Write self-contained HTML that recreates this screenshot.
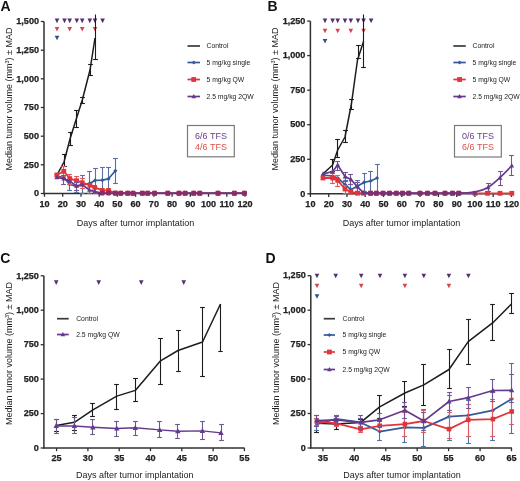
<!DOCTYPE html>
<html><head><meta charset="utf-8"><style>
html,body{margin:0;padding:0;background:#fff;width:520px;height:481px;overflow:hidden;}
svg{display:block;font-family:"Liberation Sans", sans-serif;filter:blur(0.4px);}
</style></head><body>
<svg width="520" height="481" viewBox="0 0 520 481" font-family='"Liberation Sans", sans-serif'>
<rect width="520" height="481" fill="#fff"/>
<text x="0.5" y="10.6" font-size="14" text-anchor="start" font-weight="bold" fill="#111" >A</text>
<line x1="44.0" y1="194.2" x2="44.0" y2="21.5" stroke="#303030" stroke-width="1.5"/>
<line x1="43.4" y1="193.6" x2="245.5" y2="193.6" stroke="#303030" stroke-width="1.5"/>
<line x1="40.8" y1="193.5" x2="44.0" y2="193.5" stroke="#303030" stroke-width="1.3"/>
<text x="39.0" y="196.2" font-size="9.1" text-anchor="end" font-weight="bold" fill="#222" stroke="#222" stroke-width="0.25">0</text>
<line x1="40.8" y1="164.8" x2="44.0" y2="164.8" stroke="#303030" stroke-width="1.3"/>
<text x="39.0" y="167.5" font-size="9.1" text-anchor="end" font-weight="bold" fill="#222" stroke="#222" stroke-width="0.25">250</text>
<line x1="40.8" y1="136.2" x2="44.0" y2="136.2" stroke="#303030" stroke-width="1.3"/>
<text x="39.0" y="138.9" font-size="9.1" text-anchor="end" font-weight="bold" fill="#222" stroke="#222" stroke-width="0.25">500</text>
<line x1="40.8" y1="107.5" x2="44.0" y2="107.5" stroke="#303030" stroke-width="1.3"/>
<text x="39.0" y="110.2" font-size="9.1" text-anchor="end" font-weight="bold" fill="#222" stroke="#222" stroke-width="0.25">750</text>
<line x1="40.8" y1="78.8" x2="44.0" y2="78.8" stroke="#303030" stroke-width="1.3"/>
<text x="39.0" y="81.5" font-size="9.1" text-anchor="end" font-weight="bold" fill="#222" stroke="#222" stroke-width="0.25">1,000</text>
<line x1="40.8" y1="50.2" x2="44.0" y2="50.2" stroke="#303030" stroke-width="1.3"/>
<text x="39.0" y="52.9" font-size="9.1" text-anchor="end" font-weight="bold" fill="#222" stroke="#222" stroke-width="0.25">1,250</text>
<line x1="40.8" y1="21.5" x2="44.0" y2="21.5" stroke="#303030" stroke-width="1.3"/>
<text x="39.0" y="24.2" font-size="9.1" text-anchor="end" font-weight="bold" fill="#222" stroke="#222" stroke-width="0.25">1,500</text>
<line x1="44.5" y1="193.6" x2="44.5" y2="196.8" stroke="#303030" stroke-width="1.3"/>
<text x="44.5" y="206.8" font-size="9.1" text-anchor="middle" font-weight="bold" fill="#222" stroke="#222" stroke-width="0.25">10</text>
<line x1="62.7" y1="193.6" x2="62.7" y2="196.8" stroke="#303030" stroke-width="1.3"/>
<text x="62.7" y="206.8" font-size="9.1" text-anchor="middle" font-weight="bold" fill="#222" stroke="#222" stroke-width="0.25">20</text>
<line x1="81.0" y1="193.6" x2="81.0" y2="196.8" stroke="#303030" stroke-width="1.3"/>
<text x="81.0" y="206.8" font-size="9.1" text-anchor="middle" font-weight="bold" fill="#222" stroke="#222" stroke-width="0.25">30</text>
<line x1="99.2" y1="193.6" x2="99.2" y2="196.8" stroke="#303030" stroke-width="1.3"/>
<text x="99.2" y="206.8" font-size="9.1" text-anchor="middle" font-weight="bold" fill="#222" stroke="#222" stroke-width="0.25">40</text>
<line x1="117.4" y1="193.6" x2="117.4" y2="196.8" stroke="#303030" stroke-width="1.3"/>
<text x="117.4" y="206.8" font-size="9.1" text-anchor="middle" font-weight="bold" fill="#222" stroke="#222" stroke-width="0.25">50</text>
<line x1="135.6" y1="193.6" x2="135.6" y2="196.8" stroke="#303030" stroke-width="1.3"/>
<text x="135.6" y="206.8" font-size="9.1" text-anchor="middle" font-weight="bold" fill="#222" stroke="#222" stroke-width="0.25">60</text>
<line x1="153.9" y1="193.6" x2="153.9" y2="196.8" stroke="#303030" stroke-width="1.3"/>
<text x="153.9" y="206.8" font-size="9.1" text-anchor="middle" font-weight="bold" fill="#222" stroke="#222" stroke-width="0.25">70</text>
<line x1="172.1" y1="193.6" x2="172.1" y2="196.8" stroke="#303030" stroke-width="1.3"/>
<text x="172.1" y="206.8" font-size="9.1" text-anchor="middle" font-weight="bold" fill="#222" stroke="#222" stroke-width="0.25">80</text>
<line x1="190.3" y1="193.6" x2="190.3" y2="196.8" stroke="#303030" stroke-width="1.3"/>
<text x="190.3" y="206.8" font-size="9.1" text-anchor="middle" font-weight="bold" fill="#222" stroke="#222" stroke-width="0.25">90</text>
<line x1="208.5" y1="193.6" x2="208.5" y2="196.8" stroke="#303030" stroke-width="1.3"/>
<text x="208.5" y="206.8" font-size="9.1" text-anchor="middle" font-weight="bold" fill="#222" stroke="#222" stroke-width="0.25">100</text>
<line x1="226.8" y1="193.6" x2="226.8" y2="196.8" stroke="#303030" stroke-width="1.3"/>
<text x="226.8" y="206.8" font-size="9.1" text-anchor="middle" font-weight="bold" fill="#222" stroke="#222" stroke-width="0.25">110</text>
<line x1="245.0" y1="193.6" x2="245.0" y2="196.8" stroke="#303030" stroke-width="1.3"/>
<text x="245.0" y="206.8" font-size="9.1" text-anchor="middle" font-weight="bold" fill="#222" stroke="#222" stroke-width="0.25">120</text>
<text x="0" y="0" font-size="9" text-anchor="middle" fill="#222" transform="translate(12.0,99.0) rotate(-90)">Median tumor volume (mm<tspan font-size="5.5" dy="-3">3</tspan><tspan dy="3">) ± MAD</tspan></text>
<text x="135.5" y="225.8" font-size="9" text-anchor="middle" font-weight="normal" fill="#222" >Days after tumor implantation</text>
<line x1="187.5" y1="46.0" x2="200.0" y2="46.0" stroke="#3a3a3a" stroke-width="1.7"/>
<text x="206.5" y="48.4" font-size="6.8" text-anchor="start" font-weight="normal" fill="#222" >Control</text>
<line x1="187.5" y1="62.5" x2="200.0" y2="62.5" stroke="#35599a" stroke-width="1.7"/>
<polygon points="193.8,60.5 195.8,62.5 193.8,64.5 191.8,62.5" fill="#35599a"/>
<text x="206.5" y="64.9" font-size="6.8" text-anchor="start" font-weight="normal" fill="#222" >5 mg/kg single</text>
<line x1="187.5" y1="79.5" x2="200.0" y2="79.5" stroke="#e2353b" stroke-width="1.7"/>
<rect x="191.3" y="77.1" width="4.8" height="4.8" fill="#e2353b"/>
<text x="206.5" y="81.9" font-size="6.8" text-anchor="start" font-weight="normal" fill="#222" >5 mg/kg QW</text>
<line x1="187.5" y1="96.5" x2="200.0" y2="96.5" stroke="#643a8e" stroke-width="1.7"/>
<polygon points="193.8,94.0 196.0,98.2 191.5,98.2" fill="#643a8e"/>
<text x="206.5" y="98.9" font-size="6.8" text-anchor="start" font-weight="normal" fill="#222" >2.5 mg/kg 2QW</text>
<rect x="187.5" y="125.5" width="46.8" height="31.3" fill="none" stroke="#7a7a7a" stroke-width="1.2"/>
<text x="211.0" y="139.0" font-size="9" text-anchor="middle" font-weight="normal" fill="#6b3a8a" >6/6 TFS</text>
<text x="211.0" y="149.5" font-size="9" text-anchor="middle" font-weight="normal" fill="#d9534f" >4/6 TFS</text>
<polygon points="54.70,18.55 59.30,18.55 57.00,23.14" fill="#553071"/>
<polygon points="62.20,18.55 66.80,18.55 64.50,23.14" fill="#553071"/>
<polygon points="67.40,18.55 72.00,18.55 69.70,23.14" fill="#553071"/>
<polygon points="74.50,18.55 79.10,18.55 76.80,23.14" fill="#553071"/>
<polygon points="79.90,18.55 84.50,18.55 82.20,23.14" fill="#553071"/>
<polygon points="87.50,18.55 92.10,18.55 89.80,23.14" fill="#553071"/>
<polygon points="92.70,18.55 97.30,18.55 95.00,23.14" fill="#553071"/>
<polygon points="100.30,18.55 104.90,18.55 102.60,23.14" fill="#553071"/>
<polygon points="54.70,26.95 59.30,26.95 57.00,31.54" fill="#d9434a"/>
<polygon points="67.40,26.95 72.00,26.95 69.70,31.54" fill="#d9434a"/>
<polygon points="79.90,26.95 84.50,26.95 82.20,31.54" fill="#d9434a"/>
<polygon points="92.70,26.95 97.30,26.95 95.00,31.54" fill="#d9434a"/>
<polygon points="54.70,35.75 59.30,35.75 57.00,40.34" fill="#2e4f86"/>
<line x1="64.5" y1="154.5" x2="64.5" y2="166.5" stroke="#1c1c1c" stroke-width="1.1"/>
<line x1="62.1" y1="154.5" x2="66.9" y2="154.5" stroke="#1c1c1c" stroke-width="1.1"/>
<line x1="62.1" y1="166.5" x2="66.9" y2="166.5" stroke="#1c1c1c" stroke-width="1.1"/>
<line x1="70.5" y1="132.5" x2="70.5" y2="145.5" stroke="#1c1c1c" stroke-width="1.1"/>
<line x1="68.1" y1="132.5" x2="72.9" y2="132.5" stroke="#1c1c1c" stroke-width="1.1"/>
<line x1="68.1" y1="145.5" x2="72.9" y2="145.5" stroke="#1c1c1c" stroke-width="1.1"/>
<line x1="76.5" y1="110.5" x2="76.5" y2="127.5" stroke="#1c1c1c" stroke-width="1.1"/>
<line x1="74.1" y1="110.5" x2="78.9" y2="110.5" stroke="#1c1c1c" stroke-width="1.1"/>
<line x1="74.1" y1="127.5" x2="78.9" y2="127.5" stroke="#1c1c1c" stroke-width="1.1"/>
<line x1="82.5" y1="97.5" x2="82.5" y2="103.5" stroke="#1c1c1c" stroke-width="1.1"/>
<line x1="80.1" y1="97.5" x2="84.9" y2="97.5" stroke="#1c1c1c" stroke-width="1.1"/>
<line x1="80.1" y1="103.5" x2="84.9" y2="103.5" stroke="#1c1c1c" stroke-width="1.1"/>
<line x1="90.5" y1="64.5" x2="90.5" y2="75.5" stroke="#1c1c1c" stroke-width="1.1"/>
<line x1="88.1" y1="64.5" x2="92.9" y2="64.5" stroke="#1c1c1c" stroke-width="1.1"/>
<line x1="88.1" y1="75.5" x2="92.9" y2="75.5" stroke="#1c1c1c" stroke-width="1.1"/>
<line x1="95.5" y1="14.5" x2="95.5" y2="59.5" stroke="#1c1c1c" stroke-width="1.1"/>
<line x1="93.1" y1="59.5" x2="97.9" y2="59.5" stroke="#1c1c1c" stroke-width="1.1"/>
<polyline points="57.0,175.0 64.0,162.0 70.0,139.0 76.6,118.0 82.3,100.0 90.0,70.0 95.0,38.0" fill="none" stroke="#1c1c1c" stroke-width="1.5" stroke-linejoin="round"/>
<line x1="69.5" y1="179.5" x2="69.5" y2="190.5" stroke="#5670a2" stroke-width="1.1"/>
<line x1="67.1" y1="179.5" x2="71.9" y2="179.5" stroke="#5670a2" stroke-width="1.1"/>
<line x1="67.1" y1="190.5" x2="71.9" y2="190.5" stroke="#5670a2" stroke-width="1.1"/>
<line x1="76.5" y1="181.5" x2="76.5" y2="192.5" stroke="#5670a2" stroke-width="1.1"/>
<line x1="74.1" y1="181.5" x2="78.9" y2="181.5" stroke="#5670a2" stroke-width="1.1"/>
<line x1="74.1" y1="192.5" x2="78.9" y2="192.5" stroke="#5670a2" stroke-width="1.1"/>
<line x1="82.5" y1="175.5" x2="82.5" y2="193.5" stroke="#5670a2" stroke-width="1.1"/>
<line x1="80.1" y1="175.5" x2="84.9" y2="175.5" stroke="#5670a2" stroke-width="1.1"/>
<line x1="80.1" y1="193.5" x2="84.9" y2="193.5" stroke="#5670a2" stroke-width="1.1"/>
<line x1="89.5" y1="171.5" x2="89.5" y2="193.5" stroke="#5670a2" stroke-width="1.1"/>
<line x1="87.1" y1="171.5" x2="91.9" y2="171.5" stroke="#5670a2" stroke-width="1.1"/>
<line x1="87.1" y1="193.5" x2="91.9" y2="193.5" stroke="#5670a2" stroke-width="1.1"/>
<line x1="95.5" y1="168.5" x2="95.5" y2="193.5" stroke="#5670a2" stroke-width="1.1"/>
<line x1="93.1" y1="168.5" x2="97.9" y2="168.5" stroke="#5670a2" stroke-width="1.1"/>
<line x1="93.1" y1="193.5" x2="97.9" y2="193.5" stroke="#5670a2" stroke-width="1.1"/>
<line x1="102.5" y1="167.5" x2="102.5" y2="193.5" stroke="#5670a2" stroke-width="1.1"/>
<line x1="100.1" y1="167.5" x2="104.9" y2="167.5" stroke="#5670a2" stroke-width="1.1"/>
<line x1="100.1" y1="193.5" x2="104.9" y2="193.5" stroke="#5670a2" stroke-width="1.1"/>
<line x1="108.5" y1="167.5" x2="108.5" y2="193.5" stroke="#5670a2" stroke-width="1.1"/>
<line x1="106.1" y1="167.5" x2="110.9" y2="167.5" stroke="#5670a2" stroke-width="1.1"/>
<line x1="106.1" y1="193.5" x2="110.9" y2="193.5" stroke="#5670a2" stroke-width="1.1"/>
<line x1="115.5" y1="158.5" x2="115.5" y2="183.5" stroke="#5670a2" stroke-width="1.1"/>
<line x1="113.1" y1="158.5" x2="117.9" y2="158.5" stroke="#5670a2" stroke-width="1.1"/>
<line x1="113.1" y1="183.5" x2="117.9" y2="183.5" stroke="#5670a2" stroke-width="1.1"/>
<polyline points="56.8,176.0 63.8,177.5 69.5,184.3 76.5,186.4 82.3,184.8 89.8,183.3 95.0,180.4 102.3,180.2 108.5,178.8 115.4,170.8" fill="none" stroke="#35599a" stroke-width="1.7" stroke-linejoin="round"/>
<polygon points="56.8,173.9 58.9,176.0 56.8,178.1 54.7,176.0" fill="#35599a"/>
<polygon points="63.8,175.4 65.9,177.5 63.8,179.6 61.7,177.5" fill="#35599a"/>
<polygon points="69.5,182.2 71.6,184.3 69.5,186.4 67.4,184.3" fill="#35599a"/>
<polygon points="76.5,184.3 78.6,186.4 76.5,188.5 74.4,186.4" fill="#35599a"/>
<polygon points="82.3,182.7 84.4,184.8 82.3,186.9 80.2,184.8" fill="#35599a"/>
<polygon points="89.8,181.2 91.9,183.3 89.8,185.4 87.7,183.3" fill="#35599a"/>
<polygon points="95.0,178.3 97.1,180.4 95.0,182.5 92.9,180.4" fill="#35599a"/>
<polygon points="102.3,178.1 104.4,180.2 102.3,182.3 100.2,180.2" fill="#35599a"/>
<polygon points="108.5,176.7 110.6,178.8 108.5,180.9 106.4,178.8" fill="#35599a"/>
<polygon points="115.4,168.7 117.5,170.8 115.4,172.9 113.3,170.8" fill="#35599a"/>
<line x1="63.5" y1="166.5" x2="63.5" y2="176.5" stroke="#de5a60" stroke-width="1.1"/>
<line x1="61.1" y1="166.5" x2="65.9" y2="166.5" stroke="#de5a60" stroke-width="1.1"/>
<line x1="61.1" y1="176.5" x2="65.9" y2="176.5" stroke="#de5a60" stroke-width="1.1"/>
<line x1="69.5" y1="174.5" x2="69.5" y2="184.5" stroke="#de5a60" stroke-width="1.1"/>
<line x1="67.1" y1="174.5" x2="71.9" y2="174.5" stroke="#de5a60" stroke-width="1.1"/>
<line x1="67.1" y1="184.5" x2="71.9" y2="184.5" stroke="#de5a60" stroke-width="1.1"/>
<line x1="76.5" y1="176.5" x2="76.5" y2="186.5" stroke="#de5a60" stroke-width="1.1"/>
<line x1="74.1" y1="176.5" x2="78.9" y2="176.5" stroke="#de5a60" stroke-width="1.1"/>
<line x1="74.1" y1="186.5" x2="78.9" y2="186.5" stroke="#de5a60" stroke-width="1.1"/>
<line x1="82.5" y1="178.5" x2="82.5" y2="188.5" stroke="#de5a60" stroke-width="1.1"/>
<line x1="80.1" y1="178.5" x2="84.9" y2="178.5" stroke="#de5a60" stroke-width="1.1"/>
<line x1="80.1" y1="188.5" x2="84.9" y2="188.5" stroke="#de5a60" stroke-width="1.1"/>
<polyline points="56.8,175.0 63.8,171.3 69.8,178.6 76.5,180.7 82.2,182.7 90.0,185.3 94.7,187.4 102.3,190.4 108.5,190.4 115.4,193.0 120.8,193.2 127.7,193.2 133.0,193.2 142.3,193.2 147.7,193.2 154.6,193.2 167.8,193.2 179.0,193.2 185.1,193.2 193.7,193.2 199.8,193.2 218.0,193.2 234.4,193.2 244.4,193.2" fill="none" stroke="#e2353b" stroke-width="1.8" stroke-linejoin="round"/>
<rect x="54.4" y="172.6" width="4.8" height="4.8" fill="#e2353b"/>
<rect x="61.4" y="168.9" width="4.8" height="4.8" fill="#e2353b"/>
<rect x="67.4" y="176.2" width="4.8" height="4.8" fill="#e2353b"/>
<rect x="74.1" y="178.3" width="4.8" height="4.8" fill="#e2353b"/>
<rect x="79.8" y="180.3" width="4.8" height="4.8" fill="#e2353b"/>
<rect x="87.6" y="182.9" width="4.8" height="4.8" fill="#e2353b"/>
<rect x="92.3" y="185.0" width="4.8" height="4.8" fill="#e2353b"/>
<rect x="99.9" y="188.0" width="4.8" height="4.8" fill="#e2353b"/>
<rect x="106.1" y="188.0" width="4.8" height="4.8" fill="#e2353b"/>
<rect x="113.0" y="190.6" width="4.8" height="4.8" fill="#e2353b"/>
<rect x="118.4" y="190.8" width="4.8" height="4.8" fill="#e2353b"/>
<rect x="125.3" y="190.8" width="4.8" height="4.8" fill="#e2353b"/>
<rect x="130.6" y="190.8" width="4.8" height="4.8" fill="#e2353b"/>
<rect x="139.9" y="190.8" width="4.8" height="4.8" fill="#e2353b"/>
<rect x="145.3" y="190.8" width="4.8" height="4.8" fill="#e2353b"/>
<rect x="152.2" y="190.8" width="4.8" height="4.8" fill="#e2353b"/>
<rect x="165.4" y="190.8" width="4.8" height="4.8" fill="#e2353b"/>
<rect x="176.6" y="190.8" width="4.8" height="4.8" fill="#e2353b"/>
<rect x="182.7" y="190.8" width="4.8" height="4.8" fill="#e2353b"/>
<rect x="191.3" y="190.8" width="4.8" height="4.8" fill="#e2353b"/>
<rect x="197.4" y="190.8" width="4.8" height="4.8" fill="#e2353b"/>
<rect x="215.6" y="190.8" width="4.8" height="4.8" fill="#e2353b"/>
<rect x="232.0" y="190.8" width="4.8" height="4.8" fill="#e2353b"/>
<rect x="242.0" y="190.8" width="4.8" height="4.8" fill="#e2353b"/>
<line x1="63.5" y1="175.5" x2="63.5" y2="184.5" stroke="#74559a" stroke-width="1.1"/>
<line x1="61.1" y1="175.5" x2="65.9" y2="175.5" stroke="#74559a" stroke-width="1.1"/>
<line x1="61.1" y1="184.5" x2="65.9" y2="184.5" stroke="#74559a" stroke-width="1.1"/>
<line x1="76.5" y1="182.5" x2="76.5" y2="190.5" stroke="#74559a" stroke-width="1.1"/>
<line x1="74.1" y1="182.5" x2="78.9" y2="182.5" stroke="#74559a" stroke-width="1.1"/>
<line x1="74.1" y1="190.5" x2="78.9" y2="190.5" stroke="#74559a" stroke-width="1.1"/>
<polyline points="56.8,177.5 63.8,178.6 69.8,181.2 76.5,185.9 82.2,184.8 89.5,190.0 94.7,191.6 102.3,193.0 108.5,193.0 115.4,193.2 120.8,193.2 127.7,193.2 133.0,193.2 142.3,193.2 147.7,193.2 154.6,193.2 167.8,193.2 179.0,193.2 185.1,193.2 193.7,193.2 199.8,193.2 218.0,193.2 234.4,193.2 244.4,193.2" fill="none" stroke="#643a8e" stroke-width="1.7" stroke-linejoin="round"/>
<polygon points="56.8,174.9 59.2,179.3 54.4,179.3" fill="#643a8e"/>
<polygon points="63.8,176.0 66.2,180.4 61.4,180.4" fill="#643a8e"/>
<polygon points="69.8,178.6 72.2,183.0 67.4,183.0" fill="#643a8e"/>
<polygon points="76.5,183.3 78.9,187.7 74.1,187.7" fill="#643a8e"/>
<polygon points="82.2,182.2 84.6,186.6 79.8,186.6" fill="#643a8e"/>
<polygon points="89.5,187.4 91.9,191.8 87.1,191.8" fill="#643a8e"/>
<polygon points="94.7,189.0 97.1,193.4 92.3,193.4" fill="#643a8e"/>
<rect x="99.8" y="190.5" width="5.0" height="5.0" rx="1.5" fill="#8a2d66"/>
<rect x="106.0" y="190.5" width="5.0" height="5.0" rx="1.5" fill="#8a2d66"/>
<rect x="112.9" y="190.7" width="5.0" height="5.0" rx="1.5" fill="#8a2d66"/>
<rect x="118.3" y="190.7" width="5.0" height="5.0" rx="1.5" fill="#8a2d66"/>
<rect x="125.2" y="190.7" width="5.0" height="5.0" rx="1.5" fill="#8a2d66"/>
<rect x="130.5" y="190.7" width="5.0" height="5.0" rx="1.5" fill="#8a2d66"/>
<rect x="139.8" y="190.7" width="5.0" height="5.0" rx="1.5" fill="#8a2d66"/>
<rect x="145.2" y="190.7" width="5.0" height="5.0" rx="1.5" fill="#8a2d66"/>
<rect x="152.1" y="190.7" width="5.0" height="5.0" rx="1.5" fill="#8a2d66"/>
<rect x="165.3" y="190.7" width="5.0" height="5.0" rx="1.5" fill="#8a2d66"/>
<rect x="176.5" y="190.7" width="5.0" height="5.0" rx="1.5" fill="#8a2d66"/>
<rect x="182.6" y="190.7" width="5.0" height="5.0" rx="1.5" fill="#8a2d66"/>
<rect x="191.2" y="190.7" width="5.0" height="5.0" rx="1.5" fill="#8a2d66"/>
<rect x="197.3" y="190.7" width="5.0" height="5.0" rx="1.5" fill="#8a2d66"/>
<rect x="215.5" y="190.7" width="5.0" height="5.0" rx="1.5" fill="#8a2d66"/>
<rect x="231.9" y="190.7" width="5.0" height="5.0" rx="1.5" fill="#8a2d66"/>
<rect x="241.9" y="190.7" width="5.0" height="5.0" rx="1.5" fill="#8a2d66"/>
<text x="267.5" y="10.6" font-size="14" text-anchor="start" font-weight="bold" fill="#111" >B</text>
<line x1="310.4" y1="194.4" x2="310.4" y2="21.1" stroke="#303030" stroke-width="1.5"/>
<line x1="309.8" y1="193.8" x2="512.0" y2="193.8" stroke="#303030" stroke-width="1.5"/>
<line x1="307.2" y1="193.8" x2="310.4" y2="193.8" stroke="#303030" stroke-width="1.3"/>
<text x="305.4" y="196.5" font-size="9.1" text-anchor="end" font-weight="bold" fill="#222" stroke="#222" stroke-width="0.25">0</text>
<line x1="307.2" y1="159.3" x2="310.4" y2="159.3" stroke="#303030" stroke-width="1.3"/>
<text x="305.4" y="162.0" font-size="9.1" text-anchor="end" font-weight="bold" fill="#222" stroke="#222" stroke-width="0.25">250</text>
<line x1="307.2" y1="124.7" x2="310.4" y2="124.7" stroke="#303030" stroke-width="1.3"/>
<text x="305.4" y="127.4" font-size="9.1" text-anchor="end" font-weight="bold" fill="#222" stroke="#222" stroke-width="0.25">500</text>
<line x1="307.2" y1="90.2" x2="310.4" y2="90.2" stroke="#303030" stroke-width="1.3"/>
<text x="305.4" y="92.9" font-size="9.1" text-anchor="end" font-weight="bold" fill="#222" stroke="#222" stroke-width="0.25">750</text>
<line x1="307.2" y1="55.6" x2="310.4" y2="55.6" stroke="#303030" stroke-width="1.3"/>
<text x="305.4" y="58.3" font-size="9.1" text-anchor="end" font-weight="bold" fill="#222" stroke="#222" stroke-width="0.25">1,000</text>
<line x1="307.2" y1="21.1" x2="310.4" y2="21.1" stroke="#303030" stroke-width="1.3"/>
<text x="305.4" y="23.8" font-size="9.1" text-anchor="end" font-weight="bold" fill="#222" stroke="#222" stroke-width="0.25">1,250</text>
<line x1="310.4" y1="193.8" x2="310.4" y2="197.0" stroke="#303030" stroke-width="1.3"/>
<text x="310.4" y="207.0" font-size="9.1" text-anchor="middle" font-weight="bold" fill="#222" stroke="#222" stroke-width="0.25">10</text>
<line x1="328.7" y1="193.8" x2="328.7" y2="197.0" stroke="#303030" stroke-width="1.3"/>
<text x="328.7" y="207.0" font-size="9.1" text-anchor="middle" font-weight="bold" fill="#222" stroke="#222" stroke-width="0.25">20</text>
<line x1="347.0" y1="193.8" x2="347.0" y2="197.0" stroke="#303030" stroke-width="1.3"/>
<text x="347.0" y="207.0" font-size="9.1" text-anchor="middle" font-weight="bold" fill="#222" stroke="#222" stroke-width="0.25">30</text>
<line x1="365.2" y1="193.8" x2="365.2" y2="197.0" stroke="#303030" stroke-width="1.3"/>
<text x="365.2" y="207.0" font-size="9.1" text-anchor="middle" font-weight="bold" fill="#222" stroke="#222" stroke-width="0.25">40</text>
<line x1="383.5" y1="193.8" x2="383.5" y2="197.0" stroke="#303030" stroke-width="1.3"/>
<text x="383.5" y="207.0" font-size="9.1" text-anchor="middle" font-weight="bold" fill="#222" stroke="#222" stroke-width="0.25">50</text>
<line x1="401.8" y1="193.8" x2="401.8" y2="197.0" stroke="#303030" stroke-width="1.3"/>
<text x="401.8" y="207.0" font-size="9.1" text-anchor="middle" font-weight="bold" fill="#222" stroke="#222" stroke-width="0.25">60</text>
<line x1="420.1" y1="193.8" x2="420.1" y2="197.0" stroke="#303030" stroke-width="1.3"/>
<text x="420.1" y="207.0" font-size="9.1" text-anchor="middle" font-weight="bold" fill="#222" stroke="#222" stroke-width="0.25">70</text>
<line x1="438.4" y1="193.8" x2="438.4" y2="197.0" stroke="#303030" stroke-width="1.3"/>
<text x="438.4" y="207.0" font-size="9.1" text-anchor="middle" font-weight="bold" fill="#222" stroke="#222" stroke-width="0.25">80</text>
<line x1="456.7" y1="193.8" x2="456.7" y2="197.0" stroke="#303030" stroke-width="1.3"/>
<text x="456.7" y="207.0" font-size="9.1" text-anchor="middle" font-weight="bold" fill="#222" stroke="#222" stroke-width="0.25">90</text>
<line x1="474.9" y1="193.8" x2="474.9" y2="197.0" stroke="#303030" stroke-width="1.3"/>
<text x="474.9" y="207.0" font-size="9.1" text-anchor="middle" font-weight="bold" fill="#222" stroke="#222" stroke-width="0.25">100</text>
<line x1="493.2" y1="193.8" x2="493.2" y2="197.0" stroke="#303030" stroke-width="1.3"/>
<text x="493.2" y="207.0" font-size="9.1" text-anchor="middle" font-weight="bold" fill="#222" stroke="#222" stroke-width="0.25">110</text>
<line x1="511.5" y1="193.8" x2="511.5" y2="197.0" stroke="#303030" stroke-width="1.3"/>
<text x="511.5" y="207.0" font-size="9.1" text-anchor="middle" font-weight="bold" fill="#222" stroke="#222" stroke-width="0.25">120</text>
<text x="0" y="0" font-size="9" text-anchor="middle" fill="#222" transform="translate(277.5,99.0) rotate(-90)">Median tumor volume (mm<tspan font-size="5.5" dy="-3">3</tspan><tspan dy="3">) ± MAD</tspan></text>
<text x="401.6" y="225.8" font-size="9" text-anchor="middle" font-weight="normal" fill="#222" >Days after tumor implantation</text>
<line x1="453.3" y1="46.0" x2="465.8" y2="46.0" stroke="#3a3a3a" stroke-width="1.7"/>
<text x="472.5" y="48.4" font-size="6.8" text-anchor="start" font-weight="normal" fill="#222" >Control</text>
<line x1="453.3" y1="62.5" x2="465.8" y2="62.5" stroke="#35599a" stroke-width="1.7"/>
<polygon points="459.6,60.5 461.6,62.5 459.6,64.5 457.6,62.5" fill="#35599a"/>
<text x="472.5" y="64.9" font-size="6.8" text-anchor="start" font-weight="normal" fill="#222" >5 mg/kg single</text>
<line x1="453.3" y1="79.5" x2="465.8" y2="79.5" stroke="#e2353b" stroke-width="1.7"/>
<rect x="457.2" y="77.1" width="4.8" height="4.8" fill="#e2353b"/>
<text x="472.5" y="81.9" font-size="6.8" text-anchor="start" font-weight="normal" fill="#222" >5 mg/kg QW</text>
<line x1="453.3" y1="96.5" x2="465.8" y2="96.5" stroke="#643a8e" stroke-width="1.7"/>
<polygon points="459.6,94.0 461.9,98.2 457.2,98.2" fill="#643a8e"/>
<text x="472.5" y="98.9" font-size="6.8" text-anchor="start" font-weight="normal" fill="#222" >2.5 mg/kg 2QW</text>
<rect x="454.5" y="125.5" width="46.8" height="31.5" fill="none" stroke="#7a7a7a" stroke-width="1.2"/>
<text x="478.0" y="139.0" font-size="9" text-anchor="middle" font-weight="normal" fill="#6b3a8a" >0/6 TFS</text>
<text x="478.0" y="149.5" font-size="9" text-anchor="middle" font-weight="normal" fill="#d9534f" >6/6 TFS</text>
<polygon points="322.70,18.55 327.30,18.55 325.00,23.14" fill="#553071"/>
<polygon points="330.30,18.55 334.90,18.55 332.60,23.14" fill="#553071"/>
<polygon points="335.40,18.55 340.00,18.55 337.70,23.14" fill="#553071"/>
<polygon points="342.70,18.55 347.30,18.55 345.00,23.14" fill="#553071"/>
<polygon points="348.50,18.55 353.10,18.55 350.80,23.14" fill="#553071"/>
<polygon points="355.70,18.55 360.30,18.55 358.00,23.14" fill="#553071"/>
<polygon points="361.30,18.55 365.90,18.55 363.60,23.14" fill="#553071"/>
<polygon points="368.80,18.55 373.40,18.55 371.10,23.14" fill="#553071"/>
<polygon points="322.70,28.75 327.30,28.75 325.00,33.34" fill="#d9434a"/>
<polygon points="335.40,28.75 340.00,28.75 337.70,33.34" fill="#d9434a"/>
<polygon points="348.50,28.75 353.10,28.75 350.80,33.34" fill="#d9434a"/>
<polygon points="361.30,28.75 365.90,28.75 363.60,33.34" fill="#d9434a"/>
<polygon points="322.70,38.95 327.30,38.95 325.00,43.55" fill="#2e4f86"/>
<line x1="332.5" y1="159.5" x2="332.5" y2="171.5" stroke="#1c1c1c" stroke-width="1.1"/>
<line x1="330.1" y1="159.5" x2="334.9" y2="159.5" stroke="#1c1c1c" stroke-width="1.1"/>
<line x1="330.1" y1="171.5" x2="334.9" y2="171.5" stroke="#1c1c1c" stroke-width="1.1"/>
<line x1="337.5" y1="139.5" x2="337.5" y2="157.5" stroke="#1c1c1c" stroke-width="1.1"/>
<line x1="335.1" y1="139.5" x2="339.9" y2="139.5" stroke="#1c1c1c" stroke-width="1.1"/>
<line x1="335.1" y1="157.5" x2="339.9" y2="157.5" stroke="#1c1c1c" stroke-width="1.1"/>
<line x1="345.5" y1="130.5" x2="345.5" y2="142.5" stroke="#1c1c1c" stroke-width="1.1"/>
<line x1="343.1" y1="130.5" x2="347.9" y2="130.5" stroke="#1c1c1c" stroke-width="1.1"/>
<line x1="343.1" y1="142.5" x2="347.9" y2="142.5" stroke="#1c1c1c" stroke-width="1.1"/>
<line x1="351.5" y1="99.5" x2="351.5" y2="109.5" stroke="#1c1c1c" stroke-width="1.1"/>
<line x1="349.1" y1="99.5" x2="353.9" y2="99.5" stroke="#1c1c1c" stroke-width="1.1"/>
<line x1="349.1" y1="109.5" x2="353.9" y2="109.5" stroke="#1c1c1c" stroke-width="1.1"/>
<line x1="358.5" y1="45.5" x2="358.5" y2="58.5" stroke="#1c1c1c" stroke-width="1.1"/>
<line x1="356.1" y1="45.5" x2="360.9" y2="45.5" stroke="#1c1c1c" stroke-width="1.1"/>
<line x1="356.1" y1="58.5" x2="360.9" y2="58.5" stroke="#1c1c1c" stroke-width="1.1"/>
<line x1="363.5" y1="14.5" x2="363.5" y2="67.5" stroke="#1c1c1c" stroke-width="1.1"/>
<line x1="361.1" y1="67.5" x2="365.9" y2="67.5" stroke="#1c1c1c" stroke-width="1.1"/>
<polyline points="323.1,173.8 332.6,165.0 337.7,150.0 345.0,137.0 351.4,104.0 357.5,60.0 363.6,41.3" fill="none" stroke="#1c1c1c" stroke-width="1.5" stroke-linejoin="round"/>
<line x1="345.5" y1="180.5" x2="345.5" y2="190.5" stroke="#5670a2" stroke-width="1.1"/>
<line x1="343.1" y1="180.5" x2="347.9" y2="180.5" stroke="#5670a2" stroke-width="1.1"/>
<line x1="343.1" y1="190.5" x2="347.9" y2="190.5" stroke="#5670a2" stroke-width="1.1"/>
<line x1="350.5" y1="184.5" x2="350.5" y2="193.5" stroke="#5670a2" stroke-width="1.1"/>
<line x1="348.1" y1="184.5" x2="352.9" y2="184.5" stroke="#5670a2" stroke-width="1.1"/>
<line x1="348.1" y1="193.5" x2="352.9" y2="193.5" stroke="#5670a2" stroke-width="1.1"/>
<line x1="357.5" y1="180.5" x2="357.5" y2="192.5" stroke="#5670a2" stroke-width="1.1"/>
<line x1="355.1" y1="180.5" x2="359.9" y2="180.5" stroke="#5670a2" stroke-width="1.1"/>
<line x1="355.1" y1="192.5" x2="359.9" y2="192.5" stroke="#5670a2" stroke-width="1.1"/>
<line x1="364.5" y1="173.5" x2="364.5" y2="191.5" stroke="#5670a2" stroke-width="1.1"/>
<line x1="362.1" y1="173.5" x2="366.9" y2="173.5" stroke="#5670a2" stroke-width="1.1"/>
<line x1="362.1" y1="191.5" x2="366.9" y2="191.5" stroke="#5670a2" stroke-width="1.1"/>
<line x1="370.5" y1="171.5" x2="370.5" y2="191.5" stroke="#5670a2" stroke-width="1.1"/>
<line x1="368.1" y1="171.5" x2="372.9" y2="171.5" stroke="#5670a2" stroke-width="1.1"/>
<line x1="368.1" y1="191.5" x2="372.9" y2="191.5" stroke="#5670a2" stroke-width="1.1"/>
<line x1="377.5" y1="164.5" x2="377.5" y2="192.5" stroke="#5670a2" stroke-width="1.1"/>
<line x1="375.1" y1="164.5" x2="379.9" y2="164.5" stroke="#5670a2" stroke-width="1.1"/>
<line x1="375.1" y1="192.5" x2="379.9" y2="192.5" stroke="#5670a2" stroke-width="1.1"/>
<polyline points="323.1,175.2 332.6,176.0 337.7,178.0 345.1,184.6 350.9,189.7 357.5,186.0 364.0,182.4 370.6,181.0 377.1,178.0" fill="none" stroke="#35599a" stroke-width="1.7" stroke-linejoin="round"/>
<polygon points="323.1,173.1 325.2,175.2 323.1,177.3 321.0,175.2" fill="#35599a"/>
<polygon points="332.6,173.9 334.7,176.0 332.6,178.1 330.5,176.0" fill="#35599a"/>
<polygon points="337.7,175.9 339.8,178.0 337.7,180.1 335.6,178.0" fill="#35599a"/>
<polygon points="345.1,182.5 347.2,184.6 345.1,186.7 343.0,184.6" fill="#35599a"/>
<polygon points="350.9,187.6 353.0,189.7 350.9,191.8 348.8,189.7" fill="#35599a"/>
<polygon points="357.5,183.9 359.6,186.0 357.5,188.1 355.4,186.0" fill="#35599a"/>
<polygon points="364.0,180.3 366.1,182.4 364.0,184.5 361.9,182.4" fill="#35599a"/>
<polygon points="370.6,178.9 372.7,181.0 370.6,183.1 368.5,181.0" fill="#35599a"/>
<polygon points="377.1,175.9 379.2,178.0 377.1,180.1 375.0,178.0" fill="#35599a"/>
<line x1="332.5" y1="173.5" x2="332.5" y2="183.5" stroke="#de5a60" stroke-width="1.1"/>
<line x1="330.1" y1="173.5" x2="334.9" y2="173.5" stroke="#de5a60" stroke-width="1.1"/>
<line x1="330.1" y1="183.5" x2="334.9" y2="183.5" stroke="#de5a60" stroke-width="1.1"/>
<line x1="337.5" y1="175.5" x2="337.5" y2="186.5" stroke="#de5a60" stroke-width="1.1"/>
<line x1="335.1" y1="175.5" x2="339.9" y2="175.5" stroke="#de5a60" stroke-width="1.1"/>
<line x1="335.1" y1="186.5" x2="339.9" y2="186.5" stroke="#de5a60" stroke-width="1.1"/>
<line x1="345.5" y1="185.5" x2="345.5" y2="193.5" stroke="#de5a60" stroke-width="1.1"/>
<line x1="343.1" y1="185.5" x2="347.9" y2="185.5" stroke="#de5a60" stroke-width="1.1"/>
<line x1="343.1" y1="193.5" x2="347.9" y2="193.5" stroke="#de5a60" stroke-width="1.1"/>
<polyline points="323.0,178.0 332.6,178.0 337.7,180.3 345.0,189.0 350.8,192.0 357.5,193.2 363.3,193.2 370.6,193.2 376.4,193.2 383.0,193.2 389.5,193.2 396.2,193.2 402.5,193.2 408.8,193.2 420.0,193.2 427.5,193.2 435.0,193.2 445.0,193.2 452.5,193.2 458.8,193.2 475.0,193.3 487.5,193.3 500.0,193.3 511.8,193.3" fill="none" stroke="#e2353b" stroke-width="1.8" stroke-linejoin="round"/>
<rect x="320.6" y="175.6" width="4.8" height="4.8" fill="#e2353b"/>
<rect x="330.2" y="175.6" width="4.8" height="4.8" fill="#e2353b"/>
<rect x="335.3" y="177.9" width="4.8" height="4.8" fill="#e2353b"/>
<rect x="342.6" y="186.6" width="4.8" height="4.8" fill="#e2353b"/>
<rect x="348.4" y="189.6" width="4.8" height="4.8" fill="#e2353b"/>
<rect x="355.1" y="190.8" width="4.8" height="4.8" fill="#e2353b"/>
<rect x="360.9" y="190.8" width="4.8" height="4.8" fill="#e2353b"/>
<rect x="368.2" y="190.8" width="4.8" height="4.8" fill="#e2353b"/>
<rect x="374.0" y="190.8" width="4.8" height="4.8" fill="#e2353b"/>
<rect x="380.6" y="190.8" width="4.8" height="4.8" fill="#e2353b"/>
<rect x="387.1" y="190.8" width="4.8" height="4.8" fill="#e2353b"/>
<rect x="393.9" y="190.8" width="4.8" height="4.8" fill="#e2353b"/>
<rect x="400.1" y="190.8" width="4.8" height="4.8" fill="#e2353b"/>
<rect x="406.4" y="190.8" width="4.8" height="4.8" fill="#e2353b"/>
<rect x="417.6" y="190.8" width="4.8" height="4.8" fill="#e2353b"/>
<rect x="425.1" y="190.8" width="4.8" height="4.8" fill="#e2353b"/>
<rect x="432.6" y="190.8" width="4.8" height="4.8" fill="#e2353b"/>
<rect x="442.6" y="190.8" width="4.8" height="4.8" fill="#e2353b"/>
<rect x="450.1" y="190.8" width="4.8" height="4.8" fill="#e2353b"/>
<rect x="456.4" y="190.8" width="4.8" height="4.8" fill="#e2353b"/>
<rect x="472.6" y="190.9" width="4.8" height="4.8" fill="#e2353b"/>
<rect x="485.1" y="190.9" width="4.8" height="4.8" fill="#e2353b"/>
<rect x="497.6" y="190.9" width="4.8" height="4.8" fill="#e2353b"/>
<rect x="509.4" y="190.9" width="4.8" height="4.8" fill="#e2353b"/>
<line x1="337.5" y1="161.5" x2="337.5" y2="170.5" stroke="#74559a" stroke-width="1.1"/>
<line x1="335.1" y1="161.5" x2="339.9" y2="161.5" stroke="#74559a" stroke-width="1.1"/>
<line x1="335.1" y1="170.5" x2="339.9" y2="170.5" stroke="#74559a" stroke-width="1.1"/>
<line x1="345.5" y1="172.5" x2="345.5" y2="181.5" stroke="#74559a" stroke-width="1.1"/>
<line x1="343.1" y1="172.5" x2="347.9" y2="172.5" stroke="#74559a" stroke-width="1.1"/>
<line x1="343.1" y1="181.5" x2="347.9" y2="181.5" stroke="#74559a" stroke-width="1.1"/>
<line x1="350.5" y1="174.5" x2="350.5" y2="184.5" stroke="#74559a" stroke-width="1.1"/>
<line x1="348.1" y1="174.5" x2="352.9" y2="174.5" stroke="#74559a" stroke-width="1.1"/>
<line x1="348.1" y1="184.5" x2="352.9" y2="184.5" stroke="#74559a" stroke-width="1.1"/>
<line x1="357.5" y1="182.5" x2="357.5" y2="191.5" stroke="#74559a" stroke-width="1.1"/>
<line x1="355.1" y1="182.5" x2="359.9" y2="182.5" stroke="#74559a" stroke-width="1.1"/>
<line x1="355.1" y1="191.5" x2="359.9" y2="191.5" stroke="#74559a" stroke-width="1.1"/>
<line x1="488.5" y1="183.5" x2="488.5" y2="191.5" stroke="#74559a" stroke-width="1.1"/>
<line x1="486.1" y1="183.5" x2="490.9" y2="183.5" stroke="#74559a" stroke-width="1.1"/>
<line x1="486.1" y1="191.5" x2="490.9" y2="191.5" stroke="#74559a" stroke-width="1.1"/>
<line x1="500.5" y1="171.5" x2="500.5" y2="185.5" stroke="#74559a" stroke-width="1.1"/>
<line x1="498.1" y1="171.5" x2="502.9" y2="171.5" stroke="#74559a" stroke-width="1.1"/>
<line x1="498.1" y1="185.5" x2="502.9" y2="185.5" stroke="#74559a" stroke-width="1.1"/>
<line x1="511.5" y1="155.5" x2="511.5" y2="175.5" stroke="#74559a" stroke-width="1.1"/>
<line x1="509.1" y1="155.5" x2="513.9" y2="155.5" stroke="#74559a" stroke-width="1.1"/>
<line x1="509.1" y1="175.5" x2="513.9" y2="175.5" stroke="#74559a" stroke-width="1.1"/>
<path d="M323.1,173.8 L332.6,171.6 L337.7,165.0 L345.1,176.6 L350.9,179.5 L357.5,186.8 L363.3,192.6 L370.6,193.2 L376.4,193.2 L383.0,193.2 L389.5,193.2 L396.2,193.2 L402.5,193.2 L408.8,193.2 L420.0,193.2 L427.5,193.2 L435.0,193.2 L445.0,193.2 L452.5,193.2 L458.8,193.2 C470,193.2 480,192 488,187.5 C494,183.5 502,176 511.75,165.75" fill="none" stroke="#643a8e" stroke-width="1.7"/>
<polygon points="323.1,171.2 325.5,175.6 320.7,175.6" fill="#643a8e"/>
<polygon points="332.6,169.0 335.0,173.4 330.2,173.4" fill="#643a8e"/>
<polygon points="337.7,162.4 340.1,166.8 335.3,166.8" fill="#643a8e"/>
<polygon points="345.1,174.0 347.5,178.4 342.7,178.4" fill="#643a8e"/>
<polygon points="350.9,176.9 353.3,181.3 348.5,181.3" fill="#643a8e"/>
<polygon points="357.5,184.2 359.9,188.6 355.1,188.6" fill="#643a8e"/>
<polygon points="363.3,190.0 365.7,194.4 360.9,194.4" fill="#643a8e"/>
<rect x="368.1" y="190.7" width="5.0" height="5.0" rx="1.5" fill="#7e2f6e"/>
<rect x="373.9" y="190.7" width="5.0" height="5.0" rx="1.5" fill="#7e2f6e"/>
<rect x="380.5" y="190.7" width="5.0" height="5.0" rx="1.5" fill="#7e2f6e"/>
<rect x="387.0" y="190.7" width="5.0" height="5.0" rx="1.5" fill="#7e2f6e"/>
<rect x="393.8" y="190.7" width="5.0" height="5.0" rx="1.5" fill="#7e2f6e"/>
<rect x="400.0" y="190.7" width="5.0" height="5.0" rx="1.5" fill="#7e2f6e"/>
<rect x="406.2" y="190.7" width="5.0" height="5.0" rx="1.5" fill="#7e2f6e"/>
<rect x="417.5" y="190.7" width="5.0" height="5.0" rx="1.5" fill="#7e2f6e"/>
<rect x="425.0" y="190.7" width="5.0" height="5.0" rx="1.5" fill="#7e2f6e"/>
<rect x="432.5" y="190.7" width="5.0" height="5.0" rx="1.5" fill="#7e2f6e"/>
<rect x="442.5" y="190.7" width="5.0" height="5.0" rx="1.5" fill="#7e2f6e"/>
<rect x="450.0" y="190.7" width="5.0" height="5.0" rx="1.5" fill="#7e2f6e"/>
<rect x="456.2" y="190.7" width="5.0" height="5.0" rx="1.5" fill="#7e2f6e"/>
<polygon points="475.0,190.4 477.4,194.8 472.6,194.8" fill="#643a8e"/>
<polygon points="488.0,184.9 490.4,189.3 485.6,189.3" fill="#643a8e"/>
<polygon points="500.0,175.4 502.4,179.8 497.6,179.8" fill="#643a8e"/>
<polygon points="511.8,163.2 514.2,167.5 509.4,167.5" fill="#643a8e"/>
<text x="0.2" y="262.8" font-size="14" text-anchor="start" font-weight="bold" fill="#111" >C</text>
<line x1="43.9" y1="448.6" x2="43.9" y2="275.8" stroke="#303030" stroke-width="1.5"/>
<line x1="43.3" y1="448.0" x2="244.6" y2="448.0" stroke="#303030" stroke-width="1.5"/>
<line x1="40.7" y1="448.0" x2="43.9" y2="448.0" stroke="#303030" stroke-width="1.3"/>
<text x="38.9" y="450.7" font-size="9.1" text-anchor="end" font-weight="bold" fill="#222" stroke="#222" stroke-width="0.25">0</text>
<line x1="40.7" y1="413.6" x2="43.9" y2="413.6" stroke="#303030" stroke-width="1.3"/>
<text x="38.9" y="416.3" font-size="9.1" text-anchor="end" font-weight="bold" fill="#222" stroke="#222" stroke-width="0.25">250</text>
<line x1="40.7" y1="379.1" x2="43.9" y2="379.1" stroke="#303030" stroke-width="1.3"/>
<text x="38.9" y="381.8" font-size="9.1" text-anchor="end" font-weight="bold" fill="#222" stroke="#222" stroke-width="0.25">500</text>
<line x1="40.7" y1="344.7" x2="43.9" y2="344.7" stroke="#303030" stroke-width="1.3"/>
<text x="38.9" y="347.4" font-size="9.1" text-anchor="end" font-weight="bold" fill="#222" stroke="#222" stroke-width="0.25">750</text>
<line x1="40.7" y1="310.2" x2="43.9" y2="310.2" stroke="#303030" stroke-width="1.3"/>
<text x="38.9" y="312.9" font-size="9.1" text-anchor="end" font-weight="bold" fill="#222" stroke="#222" stroke-width="0.25">1,000</text>
<line x1="40.7" y1="275.8" x2="43.9" y2="275.8" stroke="#303030" stroke-width="1.3"/>
<text x="38.9" y="278.5" font-size="9.1" text-anchor="end" font-weight="bold" fill="#222" stroke="#222" stroke-width="0.25">1,250</text>
<line x1="56.6" y1="448.0" x2="56.6" y2="451.2" stroke="#303030" stroke-width="1.3"/>
<text x="56.6" y="461.2" font-size="9.1" text-anchor="middle" font-weight="bold" fill="#222" stroke="#222" stroke-width="0.25">25</text>
<line x1="87.9" y1="448.0" x2="87.9" y2="451.2" stroke="#303030" stroke-width="1.3"/>
<text x="87.9" y="461.2" font-size="9.1" text-anchor="middle" font-weight="bold" fill="#222" stroke="#222" stroke-width="0.25">30</text>
<line x1="119.2" y1="448.0" x2="119.2" y2="451.2" stroke="#303030" stroke-width="1.3"/>
<text x="119.2" y="461.2" font-size="9.1" text-anchor="middle" font-weight="bold" fill="#222" stroke="#222" stroke-width="0.25">35</text>
<line x1="150.5" y1="448.0" x2="150.5" y2="451.2" stroke="#303030" stroke-width="1.3"/>
<text x="150.5" y="461.2" font-size="9.1" text-anchor="middle" font-weight="bold" fill="#222" stroke="#222" stroke-width="0.25">40</text>
<line x1="181.8" y1="448.0" x2="181.8" y2="451.2" stroke="#303030" stroke-width="1.3"/>
<text x="181.8" y="461.2" font-size="9.1" text-anchor="middle" font-weight="bold" fill="#222" stroke="#222" stroke-width="0.25">45</text>
<line x1="213.1" y1="448.0" x2="213.1" y2="451.2" stroke="#303030" stroke-width="1.3"/>
<text x="213.1" y="461.2" font-size="9.1" text-anchor="middle" font-weight="bold" fill="#222" stroke="#222" stroke-width="0.25">50</text>
<line x1="244.4" y1="448.0" x2="244.4" y2="451.2" stroke="#303030" stroke-width="1.3"/>
<text x="244.4" y="461.2" font-size="9.1" text-anchor="middle" font-weight="bold" fill="#222" stroke="#222" stroke-width="0.25">55</text>
<text x="0" y="0" font-size="9" text-anchor="middle" fill="#222" transform="translate(12.0,353.5) rotate(-90)">Median tumor volume (mm<tspan font-size="5.5" dy="-3">3</tspan><tspan dy="3">) ± MAD</tspan></text>
<text x="134.8" y="477.6" font-size="9" text-anchor="middle" font-weight="normal" fill="#222" >Days after tumor implantation</text>
<line x1="57.0" y1="318.7" x2="68.7" y2="318.7" stroke="#3a3a3a" stroke-width="1.7"/>
<text x="76.2" y="321.1" font-size="6.8" text-anchor="start" font-weight="normal" fill="#222" >Control</text>
<line x1="57.0" y1="334.5" x2="68.7" y2="334.5" stroke="#643a8e" stroke-width="1.7"/>
<polygon points="62.9,332.0 65.2,336.2 60.5,336.2" fill="#643a8e"/>
<text x="76.2" y="336.9" font-size="6.8" text-anchor="start" font-weight="normal" fill="#222" >2.5 mg/kg QW</text>
<polygon points="53.90,280.35 58.50,280.35 56.20,284.94" fill="#553071"/>
<polygon points="96.40,280.35 101.00,280.35 98.70,284.94" fill="#553071"/>
<polygon points="138.95,280.35 143.55,280.35 141.25,284.94" fill="#553071"/>
<polygon points="181.45,280.35 186.05,280.35 183.75,284.94" fill="#553071"/>
<line x1="56.5" y1="419.5" x2="56.5" y2="431.5" stroke="#1c1c1c" stroke-width="1.1"/>
<line x1="54.1" y1="419.5" x2="58.9" y2="419.5" stroke="#1c1c1c" stroke-width="1.1"/>
<line x1="54.1" y1="431.5" x2="58.9" y2="431.5" stroke="#1c1c1c" stroke-width="1.1"/>
<line x1="74.5" y1="415.5" x2="74.5" y2="430.5" stroke="#1c1c1c" stroke-width="1.1"/>
<line x1="72.1" y1="415.5" x2="76.9" y2="415.5" stroke="#1c1c1c" stroke-width="1.1"/>
<line x1="72.1" y1="430.5" x2="76.9" y2="430.5" stroke="#1c1c1c" stroke-width="1.1"/>
<line x1="92.5" y1="403.5" x2="92.5" y2="416.5" stroke="#1c1c1c" stroke-width="1.1"/>
<line x1="90.1" y1="403.5" x2="94.9" y2="403.5" stroke="#1c1c1c" stroke-width="1.1"/>
<line x1="90.1" y1="416.5" x2="94.9" y2="416.5" stroke="#1c1c1c" stroke-width="1.1"/>
<line x1="116.5" y1="384.5" x2="116.5" y2="409.5" stroke="#1c1c1c" stroke-width="1.1"/>
<line x1="114.1" y1="384.5" x2="118.9" y2="384.5" stroke="#1c1c1c" stroke-width="1.1"/>
<line x1="114.1" y1="409.5" x2="118.9" y2="409.5" stroke="#1c1c1c" stroke-width="1.1"/>
<line x1="135.5" y1="378.5" x2="135.5" y2="401.5" stroke="#1c1c1c" stroke-width="1.1"/>
<line x1="133.1" y1="378.5" x2="137.9" y2="378.5" stroke="#1c1c1c" stroke-width="1.1"/>
<line x1="133.1" y1="401.5" x2="137.9" y2="401.5" stroke="#1c1c1c" stroke-width="1.1"/>
<line x1="160.5" y1="338.5" x2="160.5" y2="384.5" stroke="#1c1c1c" stroke-width="1.1"/>
<line x1="158.1" y1="338.5" x2="162.9" y2="338.5" stroke="#1c1c1c" stroke-width="1.1"/>
<line x1="158.1" y1="384.5" x2="162.9" y2="384.5" stroke="#1c1c1c" stroke-width="1.1"/>
<line x1="178.5" y1="330.5" x2="178.5" y2="371.5" stroke="#1c1c1c" stroke-width="1.1"/>
<line x1="176.1" y1="330.5" x2="180.9" y2="330.5" stroke="#1c1c1c" stroke-width="1.1"/>
<line x1="176.1" y1="371.5" x2="180.9" y2="371.5" stroke="#1c1c1c" stroke-width="1.1"/>
<line x1="202.5" y1="307.5" x2="202.5" y2="376.5" stroke="#1c1c1c" stroke-width="1.1"/>
<line x1="200.1" y1="307.5" x2="204.9" y2="307.5" stroke="#1c1c1c" stroke-width="1.1"/>
<line x1="200.1" y1="376.5" x2="204.9" y2="376.5" stroke="#1c1c1c" stroke-width="1.1"/>
<line x1="220.5" y1="304.0" x2="220.5" y2="351.5" stroke="#1c1c1c" stroke-width="1.1"/>
<line x1="218.3" y1="351.5" x2="222.7" y2="351.5" stroke="#1c1c1c" stroke-width="1.1"/>
<polyline points="56.2,425.5 74.4,422.3 92.9,409.8 116.8,396.1 135.3,390.4 160.1,361.2 178.0,350.5 202.5,342.0 220.5,304.0" fill="none" stroke="#1c1c1c" stroke-width="1.5" stroke-linejoin="round"/>
<line x1="56.5" y1="419.5" x2="56.5" y2="433.5" stroke="#6e5a86" stroke-width="1.1"/>
<line x1="54.1" y1="419.5" x2="58.9" y2="419.5" stroke="#6e5a86" stroke-width="1.1"/>
<line x1="54.1" y1="433.5" x2="58.9" y2="433.5" stroke="#6e5a86" stroke-width="1.1"/>
<line x1="74.5" y1="417.5" x2="74.5" y2="433.5" stroke="#6e5a86" stroke-width="1.1"/>
<line x1="72.1" y1="417.5" x2="76.9" y2="417.5" stroke="#6e5a86" stroke-width="1.1"/>
<line x1="72.1" y1="433.5" x2="76.9" y2="433.5" stroke="#6e5a86" stroke-width="1.1"/>
<line x1="92.5" y1="419.5" x2="92.5" y2="434.5" stroke="#6e5a86" stroke-width="1.1"/>
<line x1="90.1" y1="419.5" x2="94.9" y2="419.5" stroke="#6e5a86" stroke-width="1.1"/>
<line x1="90.1" y1="434.5" x2="94.9" y2="434.5" stroke="#6e5a86" stroke-width="1.1"/>
<line x1="116.5" y1="421.5" x2="116.5" y2="436.5" stroke="#6e5a86" stroke-width="1.1"/>
<line x1="114.1" y1="421.5" x2="118.9" y2="421.5" stroke="#6e5a86" stroke-width="1.1"/>
<line x1="114.1" y1="436.5" x2="118.9" y2="436.5" stroke="#6e5a86" stroke-width="1.1"/>
<line x1="135.5" y1="421.5" x2="135.5" y2="435.5" stroke="#6e5a86" stroke-width="1.1"/>
<line x1="133.1" y1="421.5" x2="137.9" y2="421.5" stroke="#6e5a86" stroke-width="1.1"/>
<line x1="133.1" y1="435.5" x2="137.9" y2="435.5" stroke="#6e5a86" stroke-width="1.1"/>
<line x1="159.5" y1="421.5" x2="159.5" y2="437.5" stroke="#6e5a86" stroke-width="1.1"/>
<line x1="157.1" y1="421.5" x2="161.9" y2="421.5" stroke="#6e5a86" stroke-width="1.1"/>
<line x1="157.1" y1="437.5" x2="161.9" y2="437.5" stroke="#6e5a86" stroke-width="1.1"/>
<line x1="177.5" y1="424.5" x2="177.5" y2="438.5" stroke="#6e5a86" stroke-width="1.1"/>
<line x1="175.1" y1="424.5" x2="179.9" y2="424.5" stroke="#6e5a86" stroke-width="1.1"/>
<line x1="175.1" y1="438.5" x2="179.9" y2="438.5" stroke="#6e5a86" stroke-width="1.1"/>
<line x1="202.5" y1="421.5" x2="202.5" y2="439.5" stroke="#6e5a86" stroke-width="1.1"/>
<line x1="200.1" y1="421.5" x2="204.9" y2="421.5" stroke="#6e5a86" stroke-width="1.1"/>
<line x1="200.1" y1="439.5" x2="204.9" y2="439.5" stroke="#6e5a86" stroke-width="1.1"/>
<line x1="221.5" y1="424.5" x2="221.5" y2="440.5" stroke="#6e5a86" stroke-width="1.1"/>
<line x1="219.1" y1="424.5" x2="223.9" y2="424.5" stroke="#6e5a86" stroke-width="1.1"/>
<line x1="219.1" y1="440.5" x2="223.9" y2="440.5" stroke="#6e5a86" stroke-width="1.1"/>
<polyline points="56.2,426.0 74.4,426.0 92.9,427.3 116.8,428.5 135.3,427.8 159.7,429.9 177.8,431.2 202.4,430.9 221.0,432.9" fill="none" stroke="#643a8e" stroke-width="1.4" stroke-linejoin="round"/>
<polygon points="56.2,423.1 58.9,428.1 53.5,428.1" fill="#643a8e"/>
<polygon points="74.4,423.1 77.1,428.1 71.7,428.1" fill="#643a8e"/>
<polygon points="92.9,424.4 95.6,429.4 90.2,429.4" fill="#643a8e"/>
<polygon points="116.8,425.6 119.5,430.6 114.1,430.6" fill="#643a8e"/>
<polygon points="135.3,424.9 138.0,429.9 132.6,429.9" fill="#643a8e"/>
<polygon points="159.7,427.0 162.4,432.0 157.0,432.0" fill="#643a8e"/>
<polygon points="177.8,428.3 180.5,433.3 175.1,433.3" fill="#643a8e"/>
<polygon points="202.4,428.0 205.1,433.0 199.7,433.0" fill="#643a8e"/>
<polygon points="221.0,430.0 223.7,435.0 218.3,435.0" fill="#643a8e"/>
<text x="265.5" y="262.8" font-size="14" text-anchor="start" font-weight="bold" fill="#111" >D</text>
<line x1="310.8" y1="448.6" x2="310.8" y2="275.7" stroke="#303030" stroke-width="1.5"/>
<line x1="310.2" y1="448.0" x2="512.0" y2="448.0" stroke="#303030" stroke-width="1.5"/>
<line x1="307.6" y1="448.0" x2="310.8" y2="448.0" stroke="#303030" stroke-width="1.3"/>
<text x="305.8" y="450.7" font-size="9.1" text-anchor="end" font-weight="bold" fill="#222" stroke="#222" stroke-width="0.25">0</text>
<line x1="307.6" y1="413.5" x2="310.8" y2="413.5" stroke="#303030" stroke-width="1.3"/>
<text x="305.8" y="416.2" font-size="9.1" text-anchor="end" font-weight="bold" fill="#222" stroke="#222" stroke-width="0.25">250</text>
<line x1="307.6" y1="379.1" x2="310.8" y2="379.1" stroke="#303030" stroke-width="1.3"/>
<text x="305.8" y="381.8" font-size="9.1" text-anchor="end" font-weight="bold" fill="#222" stroke="#222" stroke-width="0.25">500</text>
<line x1="307.6" y1="344.6" x2="310.8" y2="344.6" stroke="#303030" stroke-width="1.3"/>
<text x="305.8" y="347.3" font-size="9.1" text-anchor="end" font-weight="bold" fill="#222" stroke="#222" stroke-width="0.25">750</text>
<line x1="307.6" y1="310.2" x2="310.8" y2="310.2" stroke="#303030" stroke-width="1.3"/>
<text x="305.8" y="312.9" font-size="9.1" text-anchor="end" font-weight="bold" fill="#222" stroke="#222" stroke-width="0.25">1,000</text>
<line x1="307.6" y1="275.7" x2="310.8" y2="275.7" stroke="#303030" stroke-width="1.3"/>
<text x="305.8" y="278.4" font-size="9.1" text-anchor="end" font-weight="bold" fill="#222" stroke="#222" stroke-width="0.25">1,250</text>
<line x1="322.9" y1="448.0" x2="322.9" y2="451.2" stroke="#303030" stroke-width="1.3"/>
<text x="322.9" y="461.2" font-size="9.1" text-anchor="middle" font-weight="bold" fill="#222" stroke="#222" stroke-width="0.25">35</text>
<line x1="354.3" y1="448.0" x2="354.3" y2="451.2" stroke="#303030" stroke-width="1.3"/>
<text x="354.3" y="461.2" font-size="9.1" text-anchor="middle" font-weight="bold" fill="#222" stroke="#222" stroke-width="0.25">40</text>
<line x1="385.8" y1="448.0" x2="385.8" y2="451.2" stroke="#303030" stroke-width="1.3"/>
<text x="385.8" y="461.2" font-size="9.1" text-anchor="middle" font-weight="bold" fill="#222" stroke="#222" stroke-width="0.25">45</text>
<line x1="417.2" y1="448.0" x2="417.2" y2="451.2" stroke="#303030" stroke-width="1.3"/>
<text x="417.2" y="461.2" font-size="9.1" text-anchor="middle" font-weight="bold" fill="#222" stroke="#222" stroke-width="0.25">50</text>
<line x1="448.6" y1="448.0" x2="448.6" y2="451.2" stroke="#303030" stroke-width="1.3"/>
<text x="448.6" y="461.2" font-size="9.1" text-anchor="middle" font-weight="bold" fill="#222" stroke="#222" stroke-width="0.25">55</text>
<line x1="480.1" y1="448.0" x2="480.1" y2="451.2" stroke="#303030" stroke-width="1.3"/>
<text x="480.1" y="461.2" font-size="9.1" text-anchor="middle" font-weight="bold" fill="#222" stroke="#222" stroke-width="0.25">60</text>
<line x1="511.5" y1="448.0" x2="511.5" y2="451.2" stroke="#303030" stroke-width="1.3"/>
<text x="511.5" y="461.2" font-size="9.1" text-anchor="middle" font-weight="bold" fill="#222" stroke="#222" stroke-width="0.25">65</text>
<text x="0" y="0" font-size="9" text-anchor="middle" fill="#222" transform="translate(278.5,353.5) rotate(-90)">Median tumor volume (mm<tspan font-size="5.5" dy="-3">3</tspan><tspan dy="3">) ± MAD</tspan></text>
<text x="402.1" y="477.6" font-size="9" text-anchor="middle" font-weight="normal" fill="#222" >Days after tumor implantation</text>
<line x1="323.7" y1="318.7" x2="335.0" y2="318.7" stroke="#3a3a3a" stroke-width="1.7"/>
<text x="342.5" y="321.1" font-size="6.8" text-anchor="start" font-weight="normal" fill="#222" >Control</text>
<line x1="323.7" y1="335.0" x2="335.0" y2="335.0" stroke="#35599a" stroke-width="1.7"/>
<polygon points="329.4,333.0 331.4,335.0 329.4,337.0 327.4,335.0" fill="#35599a"/>
<text x="342.5" y="337.4" font-size="6.8" text-anchor="start" font-weight="normal" fill="#222" >5 mg/kg single</text>
<line x1="323.7" y1="352.0" x2="335.0" y2="352.0" stroke="#e2353b" stroke-width="1.7"/>
<rect x="327.0" y="349.6" width="4.8" height="4.8" fill="#e2353b"/>
<text x="342.5" y="354.4" font-size="6.8" text-anchor="start" font-weight="normal" fill="#222" >5 mg/kg QW</text>
<line x1="323.7" y1="369.5" x2="335.0" y2="369.5" stroke="#643a8e" stroke-width="1.7"/>
<polygon points="329.4,367.0 331.7,371.2 327.1,371.2" fill="#643a8e"/>
<text x="342.5" y="371.9" font-size="6.8" text-anchor="start" font-weight="normal" fill="#222" >2.5 mg/kg 2QW</text>
<polygon points="314.70,273.75 319.30,273.75 317.00,278.34" fill="#553071"/>
<polygon points="333.40,273.75 338.00,273.75 335.70,278.34" fill="#553071"/>
<polygon points="358.90,273.75 363.50,273.75 361.20,278.34" fill="#553071"/>
<polygon points="377.70,273.75 382.30,273.75 380.00,278.34" fill="#553071"/>
<polygon points="402.60,273.75 407.20,273.75 404.90,278.34" fill="#553071"/>
<polygon points="421.50,273.75 426.10,273.75 423.80,278.34" fill="#553071"/>
<polygon points="446.60,273.75 451.20,273.75 448.90,278.34" fill="#553071"/>
<polygon points="466.10,273.75 470.70,273.75 468.40,278.34" fill="#553071"/>
<polygon points="314.70,283.75 319.30,283.75 317.00,288.34" fill="#d9434a"/>
<polygon points="358.90,283.75 363.50,283.75 361.20,288.34" fill="#d9434a"/>
<polygon points="402.60,283.75 407.20,283.75 404.90,288.34" fill="#d9434a"/>
<polygon points="446.60,283.75 451.20,283.75 448.90,288.34" fill="#d9434a"/>
<polygon points="314.70,294.25 319.30,294.25 317.00,298.84" fill="#2e4f86"/>
<line x1="316.5" y1="415.5" x2="316.5" y2="432.5" stroke="#1c1c1c" stroke-width="1.1"/>
<line x1="314.1" y1="415.5" x2="318.9" y2="415.5" stroke="#1c1c1c" stroke-width="1.1"/>
<line x1="314.1" y1="432.5" x2="318.9" y2="432.5" stroke="#1c1c1c" stroke-width="1.1"/>
<line x1="336.5" y1="415.5" x2="336.5" y2="429.5" stroke="#1c1c1c" stroke-width="1.1"/>
<line x1="334.1" y1="415.5" x2="338.9" y2="415.5" stroke="#1c1c1c" stroke-width="1.1"/>
<line x1="334.1" y1="429.5" x2="338.9" y2="429.5" stroke="#1c1c1c" stroke-width="1.1"/>
<line x1="360.5" y1="419.5" x2="360.5" y2="426.5" stroke="#1c1c1c" stroke-width="1.1"/>
<line x1="358.1" y1="419.5" x2="362.9" y2="419.5" stroke="#1c1c1c" stroke-width="1.1"/>
<line x1="358.1" y1="426.5" x2="362.9" y2="426.5" stroke="#1c1c1c" stroke-width="1.1"/>
<line x1="379.5" y1="395.5" x2="379.5" y2="418.5" stroke="#1c1c1c" stroke-width="1.1"/>
<line x1="377.1" y1="395.5" x2="381.9" y2="395.5" stroke="#1c1c1c" stroke-width="1.1"/>
<line x1="377.1" y1="418.5" x2="381.9" y2="418.5" stroke="#1c1c1c" stroke-width="1.1"/>
<line x1="404.5" y1="381.5" x2="404.5" y2="406.5" stroke="#1c1c1c" stroke-width="1.1"/>
<line x1="402.1" y1="381.5" x2="406.9" y2="381.5" stroke="#1c1c1c" stroke-width="1.1"/>
<line x1="402.1" y1="406.5" x2="406.9" y2="406.5" stroke="#1c1c1c" stroke-width="1.1"/>
<line x1="423.5" y1="364.5" x2="423.5" y2="405.5" stroke="#1c1c1c" stroke-width="1.1"/>
<line x1="421.1" y1="364.5" x2="425.9" y2="364.5" stroke="#1c1c1c" stroke-width="1.1"/>
<line x1="421.1" y1="405.5" x2="425.9" y2="405.5" stroke="#1c1c1c" stroke-width="1.1"/>
<line x1="449.5" y1="349.5" x2="449.5" y2="388.5" stroke="#1c1c1c" stroke-width="1.1"/>
<line x1="447.1" y1="349.5" x2="451.9" y2="349.5" stroke="#1c1c1c" stroke-width="1.1"/>
<line x1="447.1" y1="388.5" x2="451.9" y2="388.5" stroke="#1c1c1c" stroke-width="1.1"/>
<line x1="468.5" y1="319.5" x2="468.5" y2="364.5" stroke="#1c1c1c" stroke-width="1.1"/>
<line x1="466.1" y1="319.5" x2="470.9" y2="319.5" stroke="#1c1c1c" stroke-width="1.1"/>
<line x1="466.1" y1="364.5" x2="470.9" y2="364.5" stroke="#1c1c1c" stroke-width="1.1"/>
<line x1="492.5" y1="304.5" x2="492.5" y2="340.5" stroke="#1c1c1c" stroke-width="1.1"/>
<line x1="490.1" y1="304.5" x2="494.9" y2="304.5" stroke="#1c1c1c" stroke-width="1.1"/>
<line x1="490.1" y1="340.5" x2="494.9" y2="340.5" stroke="#1c1c1c" stroke-width="1.1"/>
<line x1="511.5" y1="293.5" x2="511.5" y2="313.5" stroke="#1c1c1c" stroke-width="1.1"/>
<line x1="509.1" y1="293.5" x2="513.9" y2="293.5" stroke="#1c1c1c" stroke-width="1.1"/>
<line x1="509.1" y1="313.5" x2="513.9" y2="313.5" stroke="#1c1c1c" stroke-width="1.1"/>
<polyline points="316.9,423.3 336.0,424.0 360.7,422.4 379.7,406.8 404.9,393.0 423.8,384.9 449.0,369.5 468.2,341.6 492.9,322.7 511.7,303.8" fill="none" stroke="#1c1c1c" stroke-width="1.5" stroke-linejoin="round"/>
<line x1="316.5" y1="418.5" x2="316.5" y2="430.5" stroke="#5670a2" stroke-width="1.1"/>
<line x1="314.1" y1="418.5" x2="318.9" y2="418.5" stroke="#5670a2" stroke-width="1.1"/>
<line x1="314.1" y1="430.5" x2="318.9" y2="430.5" stroke="#5670a2" stroke-width="1.1"/>
<line x1="336.5" y1="415.5" x2="336.5" y2="425.5" stroke="#5670a2" stroke-width="1.1"/>
<line x1="334.1" y1="415.5" x2="338.9" y2="415.5" stroke="#5670a2" stroke-width="1.1"/>
<line x1="334.1" y1="425.5" x2="338.9" y2="425.5" stroke="#5670a2" stroke-width="1.1"/>
<line x1="360.5" y1="418.5" x2="360.5" y2="427.5" stroke="#5670a2" stroke-width="1.1"/>
<line x1="358.1" y1="418.5" x2="362.9" y2="418.5" stroke="#5670a2" stroke-width="1.1"/>
<line x1="358.1" y1="427.5" x2="362.9" y2="427.5" stroke="#5670a2" stroke-width="1.1"/>
<line x1="379.5" y1="420.5" x2="379.5" y2="440.5" stroke="#5670a2" stroke-width="1.1"/>
<line x1="377.1" y1="420.5" x2="381.9" y2="420.5" stroke="#5670a2" stroke-width="1.1"/>
<line x1="377.1" y1="440.5" x2="381.9" y2="440.5" stroke="#5670a2" stroke-width="1.1"/>
<line x1="404.5" y1="407.5" x2="404.5" y2="442.5" stroke="#5670a2" stroke-width="1.1"/>
<line x1="402.1" y1="407.5" x2="406.9" y2="407.5" stroke="#5670a2" stroke-width="1.1"/>
<line x1="402.1" y1="442.5" x2="406.9" y2="442.5" stroke="#5670a2" stroke-width="1.1"/>
<line x1="423.5" y1="409.5" x2="423.5" y2="446.5" stroke="#5670a2" stroke-width="1.1"/>
<line x1="421.1" y1="409.5" x2="425.9" y2="409.5" stroke="#5670a2" stroke-width="1.1"/>
<line x1="421.1" y1="446.5" x2="425.9" y2="446.5" stroke="#5670a2" stroke-width="1.1"/>
<line x1="449.5" y1="395.5" x2="449.5" y2="440.5" stroke="#5670a2" stroke-width="1.1"/>
<line x1="447.1" y1="395.5" x2="451.9" y2="395.5" stroke="#5670a2" stroke-width="1.1"/>
<line x1="447.1" y1="440.5" x2="451.9" y2="440.5" stroke="#5670a2" stroke-width="1.1"/>
<line x1="468.5" y1="400.5" x2="468.5" y2="443.5" stroke="#5670a2" stroke-width="1.1"/>
<line x1="466.1" y1="400.5" x2="470.9" y2="400.5" stroke="#5670a2" stroke-width="1.1"/>
<line x1="466.1" y1="443.5" x2="470.9" y2="443.5" stroke="#5670a2" stroke-width="1.1"/>
<line x1="492.5" y1="392.5" x2="492.5" y2="440.5" stroke="#5670a2" stroke-width="1.1"/>
<line x1="490.1" y1="392.5" x2="494.9" y2="392.5" stroke="#5670a2" stroke-width="1.1"/>
<line x1="490.1" y1="440.5" x2="494.9" y2="440.5" stroke="#5670a2" stroke-width="1.1"/>
<line x1="511.5" y1="363.5" x2="511.5" y2="433.5" stroke="#5670a2" stroke-width="1.1"/>
<line x1="509.1" y1="363.5" x2="513.9" y2="363.5" stroke="#5670a2" stroke-width="1.1"/>
<line x1="509.1" y1="433.5" x2="513.9" y2="433.5" stroke="#5670a2" stroke-width="1.1"/>
<polyline points="316.9,424.1 336.0,418.9 360.7,422.4 379.7,431.6 404.9,427.4 423.8,427.9 449.0,416.6 468.2,415.3 492.9,410.3 511.7,399.0" fill="none" stroke="#35599a" stroke-width="1.7" stroke-linejoin="round"/>
<polygon points="316.9,422.0 319.0,424.1 316.9,426.2 314.8,424.1" fill="#35599a"/>
<polygon points="336.0,416.8 338.1,418.9 336.0,421.0 333.9,418.9" fill="#35599a"/>
<polygon points="360.7,420.3 362.8,422.4 360.7,424.5 358.6,422.4" fill="#35599a"/>
<polygon points="379.7,429.5 381.8,431.6 379.7,433.7 377.6,431.6" fill="#35599a"/>
<polygon points="404.9,425.3 407.0,427.4 404.9,429.5 402.8,427.4" fill="#35599a"/>
<polygon points="423.8,425.8 425.9,427.9 423.8,430.0 421.7,427.9" fill="#35599a"/>
<polygon points="449.0,414.5 451.1,416.6 449.0,418.7 446.9,416.6" fill="#35599a"/>
<polygon points="468.2,413.2 470.3,415.3 468.2,417.4 466.1,415.3" fill="#35599a"/>
<polygon points="492.9,408.2 495.0,410.3 492.9,412.4 490.8,410.3" fill="#35599a"/>
<polygon points="511.7,396.9 513.8,399.0 511.7,401.1 509.6,399.0" fill="#35599a"/>
<line x1="316.5" y1="418.5" x2="316.5" y2="425.5" stroke="#de5a60" stroke-width="1.1"/>
<line x1="314.1" y1="418.5" x2="318.9" y2="418.5" stroke="#de5a60" stroke-width="1.1"/>
<line x1="314.1" y1="425.5" x2="318.9" y2="425.5" stroke="#de5a60" stroke-width="1.1"/>
<line x1="336.5" y1="420.5" x2="336.5" y2="426.5" stroke="#de5a60" stroke-width="1.1"/>
<line x1="334.1" y1="420.5" x2="338.9" y2="420.5" stroke="#de5a60" stroke-width="1.1"/>
<line x1="334.1" y1="426.5" x2="338.9" y2="426.5" stroke="#de5a60" stroke-width="1.1"/>
<line x1="360.5" y1="426.5" x2="360.5" y2="432.5" stroke="#de5a60" stroke-width="1.1"/>
<line x1="358.1" y1="426.5" x2="362.9" y2="426.5" stroke="#de5a60" stroke-width="1.1"/>
<line x1="358.1" y1="432.5" x2="362.9" y2="432.5" stroke="#de5a60" stroke-width="1.1"/>
<line x1="379.5" y1="421.5" x2="379.5" y2="430.5" stroke="#de5a60" stroke-width="1.1"/>
<line x1="377.1" y1="421.5" x2="381.9" y2="421.5" stroke="#de5a60" stroke-width="1.1"/>
<line x1="377.1" y1="430.5" x2="381.9" y2="430.5" stroke="#de5a60" stroke-width="1.1"/>
<line x1="404.5" y1="412.5" x2="404.5" y2="436.5" stroke="#de5a60" stroke-width="1.1"/>
<line x1="402.1" y1="412.5" x2="406.9" y2="412.5" stroke="#de5a60" stroke-width="1.1"/>
<line x1="402.1" y1="436.5" x2="406.9" y2="436.5" stroke="#de5a60" stroke-width="1.1"/>
<line x1="423.5" y1="410.5" x2="423.5" y2="432.5" stroke="#de5a60" stroke-width="1.1"/>
<line x1="421.1" y1="410.5" x2="425.9" y2="410.5" stroke="#de5a60" stroke-width="1.1"/>
<line x1="421.1" y1="432.5" x2="425.9" y2="432.5" stroke="#de5a60" stroke-width="1.1"/>
<line x1="449.5" y1="412.5" x2="449.5" y2="438.5" stroke="#de5a60" stroke-width="1.1"/>
<line x1="447.1" y1="412.5" x2="451.9" y2="412.5" stroke="#de5a60" stroke-width="1.1"/>
<line x1="447.1" y1="438.5" x2="451.9" y2="438.5" stroke="#de5a60" stroke-width="1.1"/>
<line x1="468.5" y1="404.5" x2="468.5" y2="436.5" stroke="#de5a60" stroke-width="1.1"/>
<line x1="466.1" y1="404.5" x2="470.9" y2="404.5" stroke="#de5a60" stroke-width="1.1"/>
<line x1="466.1" y1="436.5" x2="470.9" y2="436.5" stroke="#de5a60" stroke-width="1.1"/>
<line x1="492.5" y1="399.5" x2="492.5" y2="436.5" stroke="#de5a60" stroke-width="1.1"/>
<line x1="490.1" y1="399.5" x2="494.9" y2="399.5" stroke="#de5a60" stroke-width="1.1"/>
<line x1="490.1" y1="436.5" x2="494.9" y2="436.5" stroke="#de5a60" stroke-width="1.1"/>
<line x1="511.5" y1="398.5" x2="511.5" y2="424.5" stroke="#de5a60" stroke-width="1.1"/>
<line x1="509.1" y1="398.5" x2="513.9" y2="398.5" stroke="#de5a60" stroke-width="1.1"/>
<line x1="509.1" y1="424.5" x2="513.9" y2="424.5" stroke="#de5a60" stroke-width="1.1"/>
<polyline points="316.9,421.5 336.0,423.3 360.7,429.3 379.7,425.8 404.9,424.1 423.8,421.0 449.0,429.1 468.2,419.8 492.9,419.1 511.7,411.5" fill="none" stroke="#e2353b" stroke-width="1.8" stroke-linejoin="round"/>
<rect x="314.6" y="419.2" width="4.6" height="4.6" fill="#e2353b"/>
<rect x="333.7" y="421.0" width="4.6" height="4.6" fill="#e2353b"/>
<rect x="358.4" y="427.0" width="4.6" height="4.6" fill="#e2353b"/>
<rect x="377.4" y="423.5" width="4.6" height="4.6" fill="#e2353b"/>
<rect x="402.6" y="421.8" width="4.6" height="4.6" fill="#e2353b"/>
<rect x="421.5" y="418.7" width="4.6" height="4.6" fill="#e2353b"/>
<rect x="446.7" y="426.8" width="4.6" height="4.6" fill="#e2353b"/>
<rect x="465.9" y="417.5" width="4.6" height="4.6" fill="#e2353b"/>
<rect x="490.6" y="416.8" width="4.6" height="4.6" fill="#e2353b"/>
<rect x="509.4" y="409.2" width="4.6" height="4.6" fill="#e2353b"/>
<line x1="316.5" y1="415.5" x2="316.5" y2="426.5" stroke="#74559a" stroke-width="1.1"/>
<line x1="314.1" y1="415.5" x2="318.9" y2="415.5" stroke="#74559a" stroke-width="1.1"/>
<line x1="314.1" y1="426.5" x2="318.9" y2="426.5" stroke="#74559a" stroke-width="1.1"/>
<line x1="336.5" y1="416.5" x2="336.5" y2="423.5" stroke="#74559a" stroke-width="1.1"/>
<line x1="334.1" y1="416.5" x2="338.9" y2="416.5" stroke="#74559a" stroke-width="1.1"/>
<line x1="334.1" y1="423.5" x2="338.9" y2="423.5" stroke="#74559a" stroke-width="1.1"/>
<line x1="360.5" y1="415.5" x2="360.5" y2="429.5" stroke="#74559a" stroke-width="1.1"/>
<line x1="358.1" y1="415.5" x2="362.9" y2="415.5" stroke="#74559a" stroke-width="1.1"/>
<line x1="358.1" y1="429.5" x2="362.9" y2="429.5" stroke="#74559a" stroke-width="1.1"/>
<line x1="379.5" y1="413.5" x2="379.5" y2="426.5" stroke="#74559a" stroke-width="1.1"/>
<line x1="377.1" y1="413.5" x2="381.9" y2="413.5" stroke="#74559a" stroke-width="1.1"/>
<line x1="377.1" y1="426.5" x2="381.9" y2="426.5" stroke="#74559a" stroke-width="1.1"/>
<line x1="404.5" y1="402.5" x2="404.5" y2="418.5" stroke="#74559a" stroke-width="1.1"/>
<line x1="402.1" y1="402.5" x2="406.9" y2="402.5" stroke="#74559a" stroke-width="1.1"/>
<line x1="402.1" y1="418.5" x2="406.9" y2="418.5" stroke="#74559a" stroke-width="1.1"/>
<line x1="423.5" y1="412.5" x2="423.5" y2="430.5" stroke="#74559a" stroke-width="1.1"/>
<line x1="421.1" y1="412.5" x2="425.9" y2="412.5" stroke="#74559a" stroke-width="1.1"/>
<line x1="421.1" y1="430.5" x2="425.9" y2="430.5" stroke="#74559a" stroke-width="1.1"/>
<line x1="449.5" y1="392.5" x2="449.5" y2="410.5" stroke="#74559a" stroke-width="1.1"/>
<line x1="447.1" y1="392.5" x2="451.9" y2="392.5" stroke="#74559a" stroke-width="1.1"/>
<line x1="447.1" y1="410.5" x2="451.9" y2="410.5" stroke="#74559a" stroke-width="1.1"/>
<line x1="468.5" y1="387.5" x2="468.5" y2="408.5" stroke="#74559a" stroke-width="1.1"/>
<line x1="466.1" y1="387.5" x2="470.9" y2="387.5" stroke="#74559a" stroke-width="1.1"/>
<line x1="466.1" y1="408.5" x2="470.9" y2="408.5" stroke="#74559a" stroke-width="1.1"/>
<line x1="492.5" y1="379.5" x2="492.5" y2="401.5" stroke="#74559a" stroke-width="1.1"/>
<line x1="490.1" y1="379.5" x2="494.9" y2="379.5" stroke="#74559a" stroke-width="1.1"/>
<line x1="490.1" y1="401.5" x2="494.9" y2="401.5" stroke="#74559a" stroke-width="1.1"/>
<line x1="511.5" y1="374.5" x2="511.5" y2="402.5" stroke="#74559a" stroke-width="1.1"/>
<line x1="509.1" y1="374.5" x2="513.9" y2="374.5" stroke="#74559a" stroke-width="1.1"/>
<line x1="509.1" y1="402.5" x2="513.9" y2="402.5" stroke="#74559a" stroke-width="1.1"/>
<polyline points="316.9,420.5 336.0,419.8 360.7,422.4 379.7,419.8 404.9,410.3 423.8,421.1 449.0,401.5 468.2,397.7 492.9,390.5 511.7,390.3" fill="none" stroke="#643a8e" stroke-width="1.7" stroke-linejoin="round"/>
<polygon points="316.9,417.7 319.5,422.5 314.3,422.5" fill="#643a8e"/>
<polygon points="336.0,417.0 338.6,421.8 333.4,421.8" fill="#643a8e"/>
<polygon points="360.7,419.6 363.3,424.4 358.1,424.4" fill="#643a8e"/>
<polygon points="379.7,417.0 382.3,421.8 377.1,421.8" fill="#643a8e"/>
<polygon points="404.9,407.5 407.5,412.3 402.3,412.3" fill="#643a8e"/>
<polygon points="423.8,418.3 426.4,423.1 421.2,423.1" fill="#643a8e"/>
<polygon points="449.0,398.7 451.6,403.5 446.4,403.5" fill="#643a8e"/>
<polygon points="468.2,394.9 470.8,399.7 465.6,399.7" fill="#643a8e"/>
<polygon points="492.9,387.7 495.5,392.5 490.3,392.5" fill="#643a8e"/>
<polygon points="511.7,387.5 514.3,392.3 509.1,392.3" fill="#643a8e"/>
</svg>
</body></html>
